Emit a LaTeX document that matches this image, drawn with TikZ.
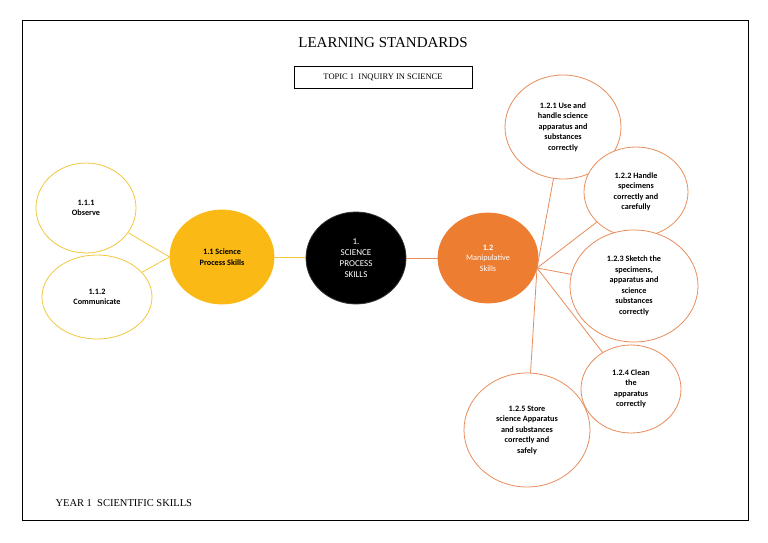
\documentclass[tikz,border=0pt]{standalone}
\usepackage{fontspec}
\setmainfont{Liberation Serif}
\newfontfamily\cf{Carlito}
\usetikzlibrary{shapes.geometric}
\definecolor{yel}{RGB}{240,200,60}
\definecolor{gold}{RGB}{250,185,20}
\definecolor{org}{RGB}{237,125,49}
\definecolor{orgl}{RGB}{232,140,90}
\begin{document}
\begin{tikzpicture}[x=1pt,y=-1pt,
 ov/.style={ellipse,draw,line width=0.8pt,align=center,inner sep=0pt,font=\cf\fontsize{8.2}{10.5}\selectfont\bfseries},
 yo/.style={ov,draw=yel,fill=white},
 oo/.style={ov,draw=orgl,fill=white},
 yl/.style={yel,line width=0.8pt},
 ol/.style={orgl,line width=0.8pt}]
\useasboundingbox (0,0) rectangle (768,543);
\draw[line width=0.4pt] (22,20) rectangle (748,520);
\node (title) at (383,43) {\fontsize{15}{17}\selectfont LEARNING STANDARDS};
\node[draw,minimum width=178pt,minimum height=22pt,font=\fontsize{8.5}{10}\selectfont] (topic) at (383,77) {TOPIC 1\ \ INQUIRY IN SCIENCE};
\node[anchor=west,font=\fontsize{10.5}{12}\selectfont] (year) at (52,503) {YEAR 1\ \ SCIENTIFIC SKILLS};
\coordinate (fan) at (537,268);
\node[yo,minimum width=100pt,minimum height=90pt] (a) at (86,208) {1.1.1\\Observe};
\node[yo,minimum width=110pt,minimum height=84pt] (b) at (97,297) {1.1.2\\Communicate};
\node[ov,draw=gold,fill=gold,minimum width=104pt,minimum height=94pt] (s) at (222,257) {1.1 Science\\Process Skills};
\node[ov,draw=black!80,fill=black,text=white,minimum width=100pt,minimum height=92pt,font=\cf\fontsize{9}{11}\selectfont] (c) at (356,258) {1.\\SCIENCE\\PROCESS\\SKILLS};
\node[ov,draw=org,fill=org,text=white,minimum width=100pt,minimum height=90pt,font=\cf\fontsize{8.2}{10.5}\selectfont] (m) at (488,258) {\textbf{1.2}\\Manipulative\\Skills};
\draw[yl] (s.west) -- (a);
\draw[yl] (s.west) -- (b);
\draw[yl] (c) -- (s);
\draw[ol] (c) -- (m);
\draw[ol] (fan) -- (563,127);
\draw[ol] (fan) -- (636,192);
\draw[ol] (fan) -- (634,286);
\draw[ol] (fan) -- (631,389);
\draw[ol] (fan) -- (527,430);
\node[oo,minimum width=116pt,minimum height=104pt] (r1) at (563,127) {1.2.1 Use and\\handle science\\apparatus and\\substances\\correctly};
\node[oo,minimum width=104pt,minimum height=90pt] (r2) at (636,192) {1.2.2 Handle\\specimens\\correctly and\\carefully};
\node[oo,minimum width=128pt,minimum height=112pt] (r3) at (634,286) {1.2.3 Sketch the\\specimens,\\apparatus and\\science\\substances\\correctly};
\node[oo,minimum width=100pt,minimum height=88pt] (r4) at (631,389) {1.2.4 Clean\\the\\apparatus\\correctly};
\node[oo,minimum width=126pt,minimum height=114pt] (r5) at (527,430) {1.2.5 Store\\science Apparatus\\and substances\\correctly and\\safely};
\end{tikzpicture}
\end{document}
